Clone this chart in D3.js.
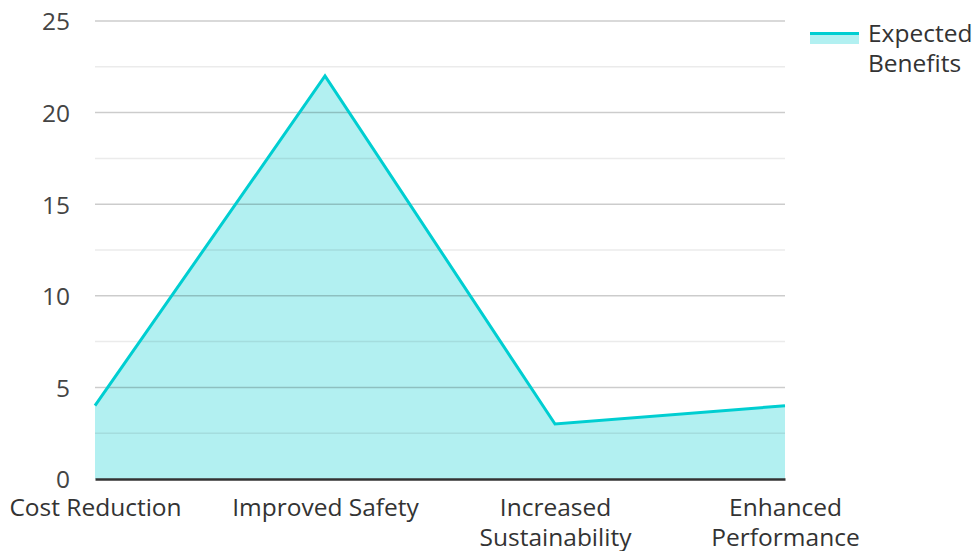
<!DOCTYPE html>
<html>
<head>
<meta charset="utf-8">
<script src="https://cdn.jsdelivr.net/npm/d3@7"></script>
<style>
  html, body { margin: 0; padding: 0; background: #fff; }
  svg { display: block; font-family: "Open Sans", "Noto Sans", sans-serif; }
</style>
</head>
<body>
<svg id="chart" width="976" height="551"></svg>
<script>
// Benefit categories and their expected scores
const categories = ["Cost Reduction", "Improved Safety", "Increased Sustainability", "Enhanced Performance"];
const categoryLines = [["Cost Reduction"], ["Improved Safety"], ["Increased", "Sustainability"], ["Enhanced", "Performance"]];
const expectedBenefits = [4, 22, 3, 4];
const seriesName = ["Expected", "Benefits"];
const yTicks = [0, 5, 10, 15, 20, 25];
const yMinorTicks = [2.5, 7.5, 12.5, 17.5, 22.5];

const lineColor = "#00CED1";
const textColor = "#333";
const fontFamily = '"Open Sans", "Noto Sans", sans-serif';
const fontSize = 24.5;

const svg = d3.select("#chart");
const margin = { left: 95, right: 191, top: 21, bottom: 72 };
const width = 976, height = 551;

const x = d3.scalePoint().domain(categories).range([margin.left, width - margin.right]).padding(0);
const y = d3.scaleLinear().domain([0, 25]).range([height - margin.bottom, margin.top]);

const data = categories.map((c, i) => ({ c, v: expectedBenefits[i] }));

// Filled area under the series
const area = d3.area().x(d => x(d.c)).y0(y(0)).y1(d => y(d.v));
svg.append("path").datum(data)
  .attr("d", area)
  .attr("fill", lineColor)
  .attr("fill-opacity", 0.3);

// Gridlines (minor then major), drawn over the fill
svg.append("g").selectAll("line").data(yMinorTicks).join("line")
  .attr("x1", margin.left).attr("x2", width - margin.right)
  .attr("y1", d => y(d)).attr("y2", d => y(d))
  .attr("stroke", "#000").attr("stroke-opacity", 0.08).attr("stroke-width", 1.5);

svg.append("g").selectAll("line").data(yTicks.filter(t => t > 0)).join("line")
  .attr("x1", margin.left).attr("x2", width - margin.right)
  .attr("y1", d => y(d)).attr("y2", d => y(d))
  .attr("stroke", "#000").attr("stroke-opacity", 0.2).attr("stroke-width", 1.5);

// Series line
const line = d3.line().x(d => x(d.c)).y(d => y(d.v));
svg.append("path").datum(data)
  .attr("d", line)
  .attr("fill", "none")
  .attr("stroke", lineColor)
  .attr("stroke-width", 3)
  .attr("stroke-linejoin", "miter");

// Y axis labels
const yAxis = d3.axisLeft(y).tickValues(yTicks).tickSize(0).tickPadding(25);
const gy = svg.append("g").attr("transform", `translate(${margin.left},0)`).call(yAxis)
  .attr("font-family", fontFamily).attr("font-size", fontSize);
gy.select(".domain").remove();
gy.selectAll("text").attr("fill", "#444").attr("dy", "0.36em");

// X axis baseline and labels
const xAxis = d3.axisBottom(x).tickSize(0).tickFormat(() => "");
const gx = svg.append("g").attr("transform", `translate(0,${y(0)})`).call(xAxis)
  .attr("font-family", fontFamily).attr("font-size", fontSize);
gx.select(".domain").attr("stroke", textColor).attr("stroke-width", 2.5);
gx.selectAll(".tick text").remove();

gx.selectAll(".tick").each(function(d, i) {
  const t = d3.select(this).append("text")
    .attr("fill", textColor)
    .attr("text-anchor", "middle");
  categoryLines[i].forEach((ln, j) => {
    t.append("tspan").attr("x", 0).attr("y", 37 + j * 30).text(ln);
  });
});

// Legend
const lg = svg.append("g").attr("transform", "translate(810,32)");
lg.append("rect").attr("x", 0).attr("y", 0).attr("width", 49).attr("height", 12)
  .attr("fill", lineColor).attr("fill-opacity", 0.3);
lg.append("line").attr("x1", 0).attr("x2", 49).attr("y1", 1.5).attr("y2", 1.5)
  .attr("stroke", lineColor).attr("stroke-width", 3);
const lt = lg.append("text").attr("fill", textColor)
  .attr("font-family", fontFamily).attr("font-size", fontSize);
seriesName.forEach((s, j) => {
  lt.append("tspan").attr("x", 58).attr("y", 10 + j * 30).text(s);
});
</script>
</body>
</html>
